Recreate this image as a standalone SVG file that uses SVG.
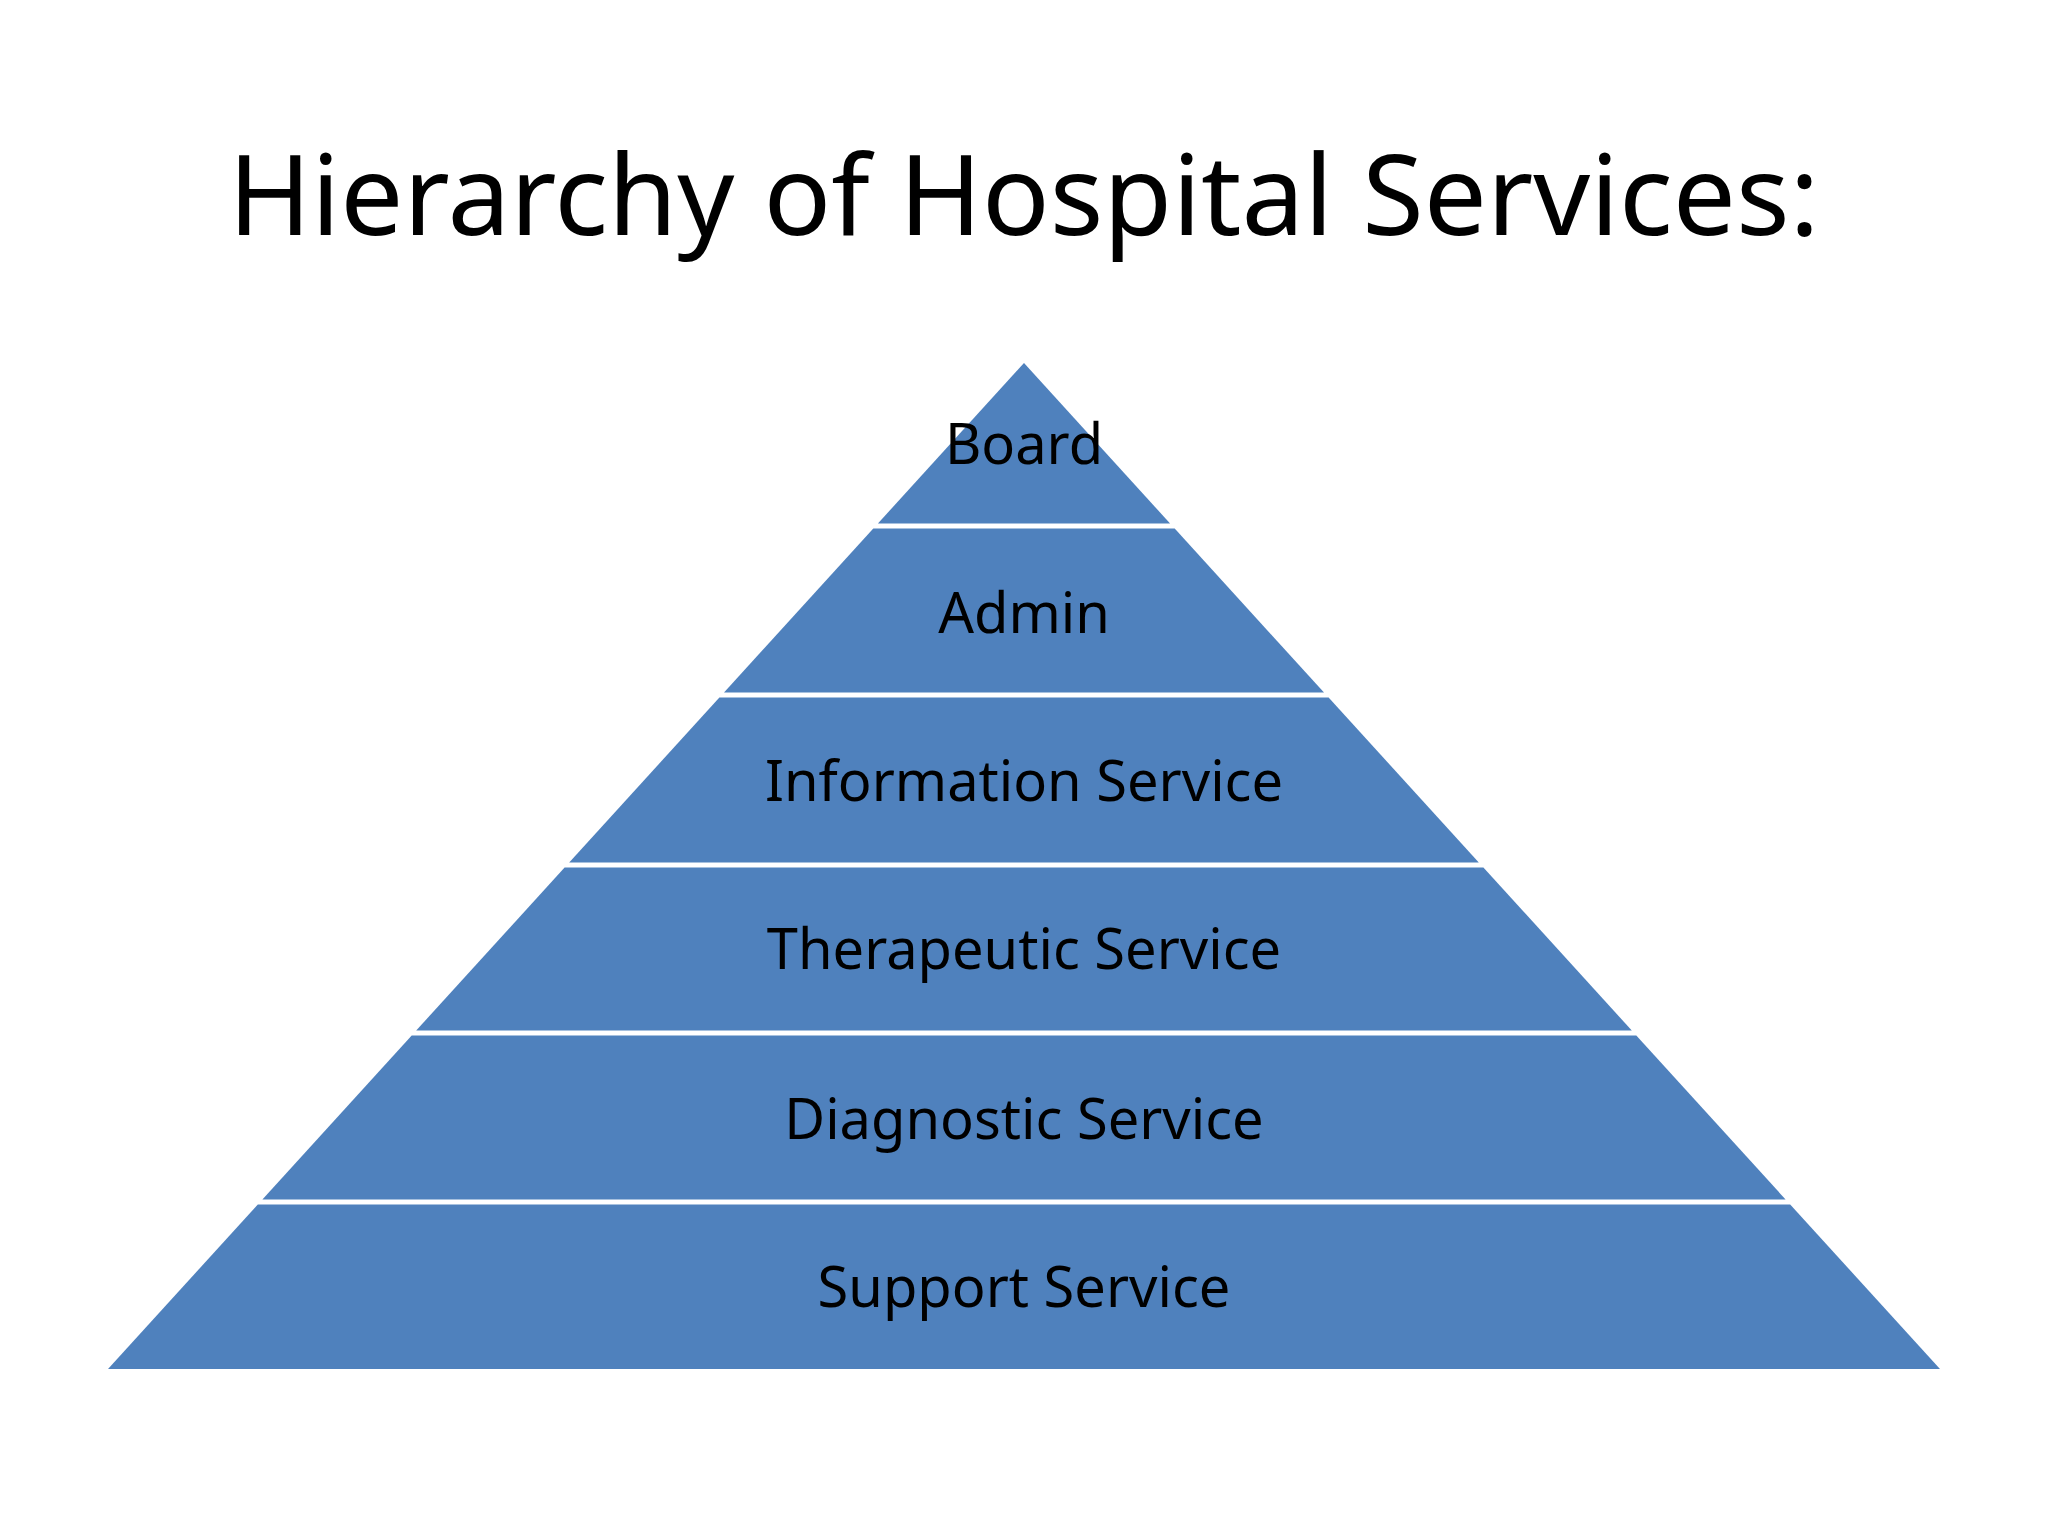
<svg xmlns="http://www.w3.org/2000/svg" width="2048" height="1536" viewBox="0 0 2048 1536">
<style>
.band{fill:#4F81BD}
.lbl{font-family:"Noto Sans","Open Sans",sans-serif;font-size:56px;fill:#000;text-anchor:middle}
.title{font-family:"Noto Sans","Open Sans",sans-serif;font-size:112px;fill:#000;text-anchor:middle}
</style>
<rect width="2048" height="1536" fill="#fff"/>
<text class="title" x="1024" y="235">Hierarchy of Hospital Services:</text>
<g id="board"><polygon class="band" points="1024,363 1170.1,523.5 877.9,523.5"/><text class="lbl" x="1024" y="464">Board</text></g>
<g id="admin"><polygon class="band" points="873.3,528.5 1174.7,528.5 1324,692.5 724,692.5"/><text class="lbl" x="1024" y="633">Admin</text></g>
<g id="information"><polygon class="band" points="719.4,697.5 1328.6,697.5 1478.8,862.5 569.2,862.5"/><text class="lbl" x="1024" y="801">Information Service</text></g>
<g id="therapeutic"><polygon class="band" points="564.6,867.5 1483.4,867.5 1631.8,1030.5 416.2,1030.5"/><text class="lbl" x="1024" y="969">Therapeutic Service</text></g>
<g id="diagnostic"><polygon class="band" points="411.7,1035.5 1636.3,1035.5 1785.6,1199.5 262.4,1199.5"/><text class="lbl" x="1024" y="1139">Diagnostic Service</text></g>
<g id="support"><polygon class="band" points="257.8,1204.5 1790.2,1204.5 1940,1369 108,1369"/><text class="lbl" x="1024" y="1307">Support Service</text></g>
<g id="connectors"/>
</svg>
